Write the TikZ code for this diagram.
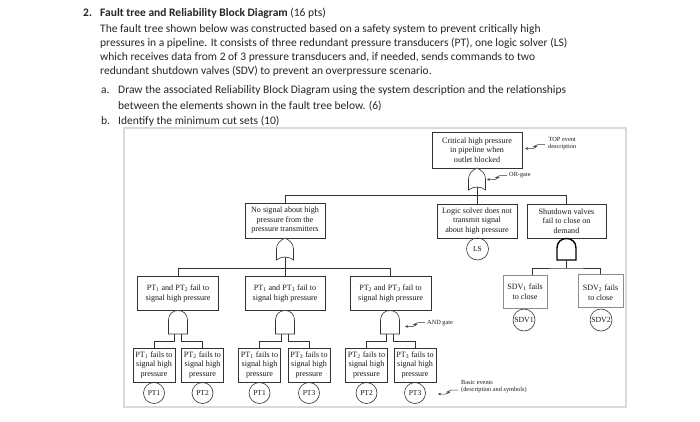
\documentclass[tikz,border=0pt]{standalone}
\usepackage{fontspec}
\setmainfont{Carlito}
\newfontfamily\tmsfont{Liberation Serif}
\usetikzlibrary{arrows.meta}
\tikzset{
  wire/.style={draw=black!80, line width=0.6pt},
  gateline/.style={draw=black!80, line width=0.6pt, fill=white},
  fbox/.style={draw=black!80, line width=0.7pt, align=center, inner sep=0pt, font=\tmsfont\fontsize{8.1}{9.5}\selectfont, text=black!90},
  lbox/.style={fbox, draw=black!45},
  evc/.style={circle, draw=black!80, line width=0.6pt, inner sep=0pt, minimum size=21pt, font=\tmsfont\fontsize{7.5}{8}\selectfont, text=black!90},
  lab/.style={font=\tmsfont\fontsize{6.3}{7}\selectfont, inner sep=0pt, text=black!90},
  txt/.style={anchor=base west, inner sep=0pt, font=\fontsize{11.5}{13}\selectfont, text=black!85},
  boltl/.style={draw=black!80, line width=0.5pt, -{Stealth[length=3pt,width=2.6pt]}},
  andg/.pic={
    \draw[gateline] (-9.5,24) -- (-9.5,10) .. controls (-9.5,-2.7) and (9.5,-2.7) .. (9.5,10) -- (9.5,24) -- cycle;
    \coordinate (-l) at (-3.5,24);
    \coordinate (-r) at (3.5,24);
  },
  bandg/.pic={
    \draw[gateline, line width=1.4pt, draw=black] (-9.5,22) -- (-9.5,10) .. controls (-9.5,-2.7) and (9.5,-2.7) .. (9.5,10) -- (9.5,22) -- cycle;
    \coordinate (-out) at (0,22);
  },
  org/.pic={
    \draw[gateline] (-8.5,22) -- (-8.5,11) .. controls (-8.5,5) and (-4,2) .. (0,0) .. controls (4,2) and (8.5,5) .. (8.5,11) -- (8.5,22) .. controls (4,18) and (-4,18) .. (-8.5,22) -- cycle;
    \coordinate (-out) at (0,19);
  },
}
\newcommand\leaderbolt[2]{\draw[boltl] (#1) -- ++(-7,0) -- ++(-4,2) -- ++(3,0) -- ++(-4,2) -- ++(-8,0);}
\begin{document}
\begin{tikzpicture}[x=1pt,y=-1pt]
\useasboundingbox (0,0) rectangle (700,421);
\fill[white] (0,0) rectangle (700,421);

% question text
\node[txt] (n2) at (83,16.7) {\bfseries 2.};
\node[txt] (l1) at (100,16.7) {\bfseries Fault tree and Reliability Block Diagram \mdseries(16 pts)};
\node[txt] (l2) at (100,32.3) {The fault tree shown below was constructed based on a safety system to prevent critically high};
\node[txt] (l3) at (100,46) {pressures in a pipeline. It consists of three redundant pressure transducers (PT), one logic solver (LS)};
\node[txt] (l4) at (100,60) {which receives data from 2 of 3 pressure transducers and, if needed, sends commands to two};
\node[txt] (l5) at (100,74) {redundant shutdown valves (SDV) to prevent an overpressure scenario.};
\node[txt] (na) at (101,93.3) {a.};
\node[txt] (l6) at (118,93.3) {Draw the associated Reliability Block Diagram using the system description and the relationships};
\node[txt] (l7) at (118,109.3) {between the elements shown in the fault tree below. (6)};
\node[txt] (nb) at (101,124) {b.};
\node[txt] (l8) at (118,124) {Identify the minimum cut sets (10)};

% frame
\draw[black!15, line width=1.5pt] (124,128) rectangle (626,407);

% top event
\node[fbox, minimum width=90pt, minimum height=36pt] (top) at (477,150) {Critical high pressure\\in pipeline when\\outlet blocked};
\pic (tg) at (477,168) {org};

% level 2
\node[fbox, minimum width=80pt, minimum height=35pt] (nosig) at (285,220.5) {No signal about high\\pressure from the\\pressure transmitters};
\node[fbox, minimum width=80pt, minimum height=34pt] (ls) at (477,221) {Logic solver does not\\transmit signal\\about high pressure};
\node[fbox, minimum width=79pt, minimum height=34pt] (sdb) at (566.5,221) {Shutdown valves\\fail to close on\\demand};
\node[evc, minimum size=22pt] (lsc) at (477.5,249) {LS};

\draw[wire] (tg-out) -- (ls.north);
\draw[wire] (nosig.north) |- (sdb.north |- 0,195) -- (sdb.north);

% PT branch
\pic (g2) at (285,238) {org};
\node[fbox, minimum width=81pt, minimum height=33.5pt] (m1) at (178,293.5) {PT\textsubscript{1} and PT\textsubscript{2} fail to\\signal high pressure};
\node[fbox, minimum width=80pt, minimum height=33.5pt] (m2) at (285,293.5) {PT\textsubscript{1} and PT\textsubscript{3} fail to\\signal high pressure};
\node[fbox, minimum width=81pt, minimum height=33.5pt] (m3) at (390.5,293.5) {PT\textsubscript{2} and PT\textsubscript{3} fail to\\signal high pressure};
\draw[wire] (g2-out) -- (m2.north);
\draw[wire] (m1.north) |- (m3.north |- 0,268) -- (m3.north);

\pic (a1) at (178,310) {andg};
\pic (a2) at (285,310) {andg};
\pic (a3) at (390,310) {andg};

\foreach \n/\x/\k in {b1/154/1,b2/202.5/2,b3/259.5/1,b4/309/3,b5/366.5/2,b6/415/3}{
  \node[fbox, minimum width=42pt, minimum height=34pt] (\n) at (\x,365) {PT\textsubscript{\k} fails to\\signal high\\pressure};
  \node[evc] (\n c) at (\x,393) {PT\k};
}
\draw[wire] (a1-l) -- ++(0,7) -| (b1.north);
\draw[wire] (a1-r) -- ++(0,7) -| (b2.north);
\draw[wire] (a2-l) -- ++(0,7) -| (b3.north);
\draw[wire] (a2-r) -- ++(0,7) -| (b4.north);
\draw[wire] (a3-l) -- ++(0,7) -| (b5.north);
\draw[wire] (a3-r) -- ++(0,7) -| (b6.north);

% SDV branch
\pic (sg) at (566.5,238) {bandg};
\node[lbox, minimum width=44pt, minimum height=33pt] (sdv1) at (525,291.5) {SDV\textsubscript{1} fails\\to close};
\node[lbox, minimum width=45pt, minimum height=33pt, anchor=north] (sdv2) at (600.5,274) {\rule{0pt}{9pt}SDV\textsubscript{2} fails\\to close};
\node[evc, minimum size=22pt, font=\tmsfont\fontsize{7.8}{8}\selectfont] (sc1) at (524,320) {SDV1};
\node[evc, minimum size=22pt, font=\tmsfont\fontsize{7.8}{8}\selectfont] (sc2) at (601,320) {SDV2};
\draw[wire] (sg-out) -- ++(0,8) coordinate (sj);
\draw[wire] ([xshift=7pt]sdv1.north) |- (sj) -| (sdv2.north);

% annotations
\node[lab, align=center, anchor=west] (topl) at (548,143.5) {TOP event\\description};
\coordinate (tb) at (545,144.5);
\leaderbolt{tb}{}
\node[lab, anchor=west] (orl) at (509,175) {OR-gate};
\coordinate (ob) at (507,175.5);
\leaderbolt{ob}{}
\node[lab, anchor=west] (andl) at (427,323) {AND gate};
\coordinate (ab) at (425,322.5);
\leaderbolt{ab}{}
\node[lab, align=left, anchor=west] (basl) at (461,387) {Basic events\\(description and symbols)};
\coordinate (bb) at (458,390);
\leaderbolt{bb}{}
\end{tikzpicture}
\end{document}
